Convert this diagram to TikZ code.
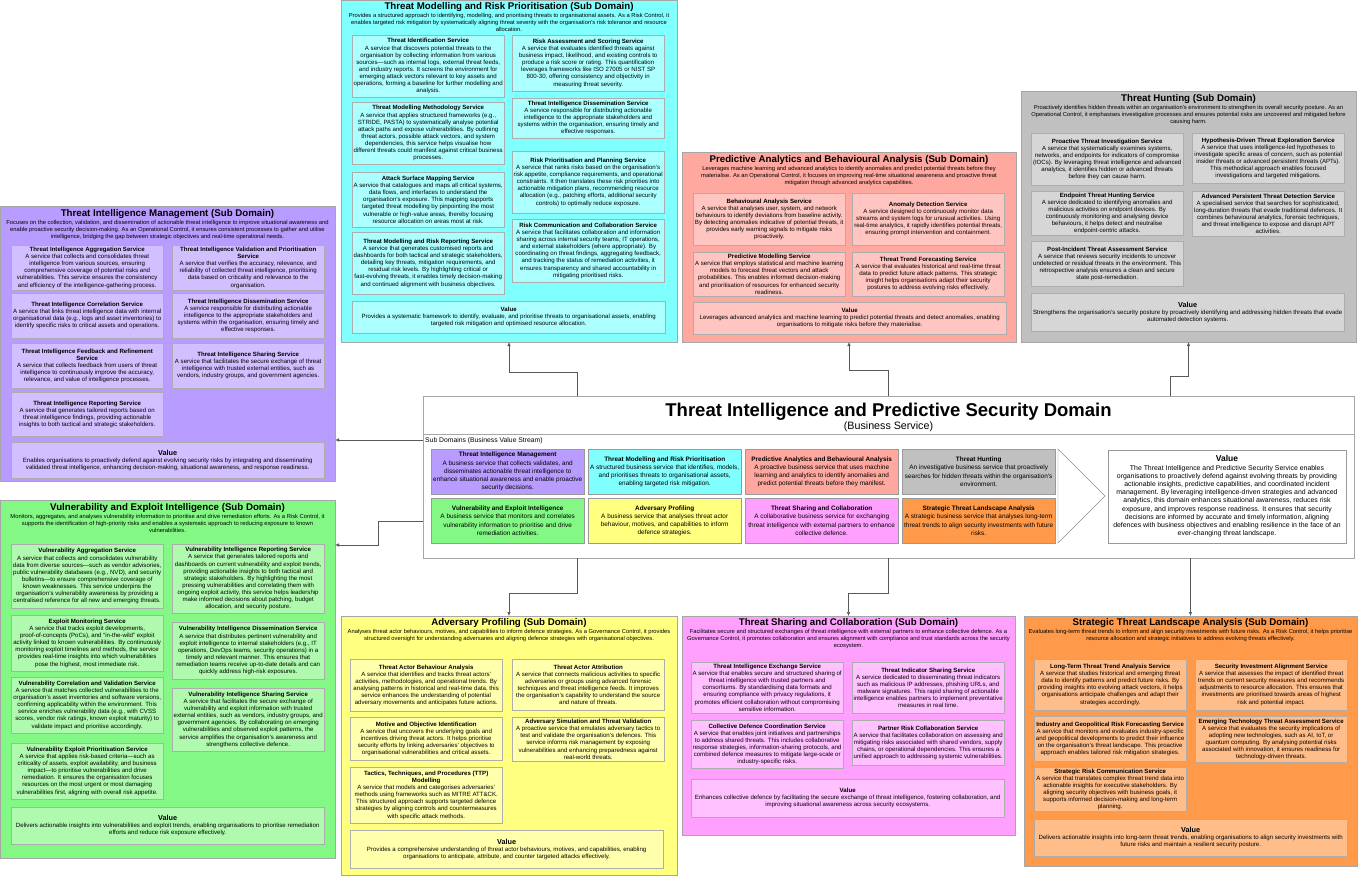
\documentclass[tikz,border=0pt]{standalone}
\usepackage{fontspec}
\setmainfont{Liberation Sans}
\usepackage{tikz}
\usetikzlibrary{arrows.meta,positioning}
\definecolor{timbg}{HTML}{B89CFF}
\definecolor{tmrbg}{HTML}{80FFFF}
\definecolor{pabbg}{HTML}{FFA8A0}
\definecolor{thbg}{HTML}{C0C0C0}
\definecolor{veibg}{HTML}{84F884}
\definecolor{apbg}{HTML}{FFFF80}
\definecolor{tscbg}{HTML}{FFA0FF}
\definecolor{stlbg}{HTML}{FF9A4A}
\newcommand{\fsz}[2]{\fontsize{#1}{#2}\selectfont}
\newcommand{\bigval}{\textbf{\fsz{7.3}{8.5}Value}}
\hyphenpenalty=10000
\exhyphenpenalty=10000
\tikzset{
  dom/.style  = {draw=black!35, anchor=north west, inner sep=0pt, outer sep=0pt},
  hd/.style   = {font=\fsz{9.7}{11}\bfseries, inner sep=1pt},
  desc/.style = {font=\fsz{5.8}{7}, align=flush center, text width=324pt, inner sep=1pt},
  svc/.style  = {draw=black!32, fill=#1!65!white, anchor=north west, align=flush center,
                 text width=149pt, inner sep=1.5pt, font=\fsz{6.1}{7.1}},
  val/.style  = {svc=#1, text width=310pt},
  sum/.style  = {draw=black!40, fill=#1, anchor=north west, align=flush center, text width=149pt,
                 inner sep=2pt, minimum height=45pt, font=\fsz{6.4}{8.2}},
  frame/.style = {draw=black!35, fill=white, anchor=north west, inner sep=0pt, outer sep=0pt},
  ar/.style   = {-{Latex[length=4pt,width=3.5pt]}, draw=black!65, line width=0.6pt},
}
\begin{document}
\begin{tikzpicture}[x=1pt, y=-1pt]
  \path[use as bounding box, fill=white] (0,0) rectangle (1358,876);

  % Threat Modelling and Risk Prioritisation
  \node[dom, fill=tmrbg, minimum width=336, minimum height=342] (tmrp) at (341,0) {};
  \node[hd, below=1pt of tmrp.north] (tmrpH) {Threat Modelling and Risk Prioritisation (Sub Domain)};
  \node[desc, text width=328pt, below=0pt of tmrpH] (tmrpD) {Provides a structured approach to identifying, modelling, and prioritising threats to organisational assets. As a Risk Control, it enables targeted risk mitigation by systematically aligning threat severity with the organisation's risk tolerance and resource allocation.};
  \node[svc=tmrbg, minimum height=62] (tmrp1) at (352,35) {\textbf{Threat Identification Service}\\A service that discovers potential threats to the organisation by collecting information from various sources—such as internal logs, external threat feeds, and industry reports. It screens the environment for emerging attack vectors relevant to key assets and operations, forming a baseline for further modelling and analysis.};
  \node[svc=tmrbg, minimum height=62] (tmrp2) at (352,102) {\textbf{Threat Modelling Methodology Service}\\A service that applies structured frameworks (e.g., STRIDE, PASTA) to systematically analyse potential attack paths and expose vulnerabilities. By outlining threat actors, possible attack vectors, and system dependencies, this service helps visualise how different threats could manifest against critical business processes.};
  \node[svc=tmrbg, minimum height=55] (tmrp3) at (352,172) {\textbf{Attack Surface Mapping Service}\\A service that catalogues and maps all critical systems, data flows, and interfaces to understand the organisation's exposure. This mapping supports targeted threat modelling by pinpointing the most vulnerable or high-value areas, thereby focusing resource allocation on areas most at risk.};
  \node[svc=tmrbg, minimum height=62] (tmrp4) at (352,232) {\textbf{Threat Modelling and Risk Reporting Service}\\A service that generates customised reports and dashboards for both tactical and strategic stakeholders, detailing key threats, mitigation requirements, and residual risk levels. By highlighting critical or fast-evolving threats, it enables timely decision-making and continued alignment with business objectives.};
  \node[svc=tmrbg, minimum height=56] (tmrp5) at (512,35) {\textbf{Risk Assessment and Scoring Service}\\A service that evaluates identified threats against business impact, likelihood, and existing controls to produce a risk score or rating. This quantification leverages frameworks like ISO 27005 or NIST SP 800-30, offering consistency and objectivity in measuring threat severity.};
  \node[svc=tmrbg, minimum height=40] (tmrp6) at (512,98) {\textbf{Threat Intelligence Dissemination Service}\\A service responsible for distributing actionable intelligence to the appropriate stakeholders and systems within the organisation, ensuring timely and effective responses.};
  \node[svc=tmrbg, minimum height=62] (tmrp7) at (512,151) {\textbf{Risk Prioritisation and Planning Service}\\A service that ranks risks based on the organisation's risk appetite, compliance requirements, and operational constraints. It then translates these risk priorities into actionable mitigation plans, recommending resource allocation (e.g., patching efforts, additional security controls) to optimally reduce exposure.};
  \node[svc=tmrbg, minimum height=63] (tmrp8) at (512,219) {\textbf{Risk Communication and Collaboration Service}\\A service that facilitates collaboration and information sharing across internal security teams, IT operations, and external stakeholders (where appropriate). By coordinating on threat findings, aggregating feedback, and tracking the status of remediation activities, it ensures transparency and shared accountability in mitigating prioritised risks.};
  \node[val=tmrbg, minimum height=32] (tmrpV) at (352,301) {\textbf{Value}\\Provides a systematic framework to identify, evaluate, and prioritise threats to organisational assets, enabling targeted risk mitigation and optimised resource allocation.};

  % Predictive Analytics and Behavioural Analysis
  \node[dom, fill=pabbg, minimum width=334, minimum height=190] (pab) at (682,152) {};
  \node[hd, below=2pt of pab.north] (pabH) {Predictive Analytics and Behavioural Analysis (Sub Domain)};
  \node[desc, text width=318pt, below=0pt of pabH] (pabD) {Leverages machine learning and advanced analytics to identify anomalies and predict potential threats before they materialise. As an Operational Control, it focuses on improving real-time situational awareness and proactive threat mitigation through advanced analytics capabilities.};
  \node[svc=pabbg, minimum height=52] (pab1) at (693,193) {\textbf{Behavioural Analysis Service}\\A service that analyses user, system, and network behaviours to identify deviations from baseline activity. By detecting anomalies indicative of potential threats, it provides early warning signals to mitigate risks proactively.};
  \node[svc=pabbg, minimum height=52] (pab2) at (852,193) {\textbf{Anomaly Detection Service}\\A service designed to continuously monitor data streams and system logs for unusual activities. Using real-time analytics, it rapidly identifies potential threats, ensuring prompt intervention and containment.};
  \node[svc=pabbg, minimum height=44] (pab3) at (693,252) {\textbf{Predictive Modelling Service}\\A service that employs statistical and machine learning models to forecast threat vectors and attack probabilities. This enables informed decision-making and prioritisation of resources for enhanced security readiness.};
  \node[svc=pabbg, minimum height=44] (pab4) at (852,252) {\textbf{Threat Trend Forecasting Service}\\A service that evaluates historical and real-time threat data to predict future attack patterns. This strategic insight helps organisations adapt their security postures to address evolving risks effectively.};
  \node[val=pabbg, minimum height=32] (pabV) at (693,302) {\textbf{Value}\\Leverages advanced analytics and machine learning to predict potential threats and detect anomalies, enabling organisations to mitigate risks before they materialise.};

  % Threat Hunting
  \node[dom, fill=thbg, minimum width=335, minimum height=251] (th) at (1021,91) {};
  \node[hd, below=2pt of th.north] (thH) {Threat Hunting (Sub Domain)};
  \node[desc, below=0pt of thH] (thD) {Proactively identifies hidden threats within an organisation's environment to strengthen its overall security posture. As an Operational Control, it emphasises investigative processes and ensures potential risks are uncovered and mitigated before causing harm.};
  \node[svc=thbg, minimum height=52] (th1) at (1031,133) {\textbf{Proactive Threat Investigation Service}\\A service that systematically examines systems, networks, and endpoints for indicators of compromise (IOCs). By leveraging threat intelligence and advanced analytics, it identifies hidden or advanced threats before they can cause harm.};
  \node[svc=thbg, minimum height=50] (th2) at (1192,133) {\textbf{Hypothesis-Driven Threat Exploration Service}\\A service that uses intelligence-led hypotheses to investigate specific areas of concern, such as potential insider threats or advanced persistent threats (APTs). This methodical approach enables focused investigations and targeted mitigations.};
  \node[svc=thbg, minimum height=44] (th3) at (1031,191) {\textbf{Endpoint Threat Hunting Service}\\A service dedicated to identifying anomalies and malicious activities on endpoint devices. By continuously monitoring and analysing device behaviours, it helps detect and neutralise endpoint-centric attacks.};
  \node[svc=thbg, minimum height=45] (th4) at (1192,191) {\textbf{Advanced Persistent Threat Detection Service}\\A specialised service that searches for sophisticated, long-duration threats that evade traditional defences. It combines behavioural analytics, forensic techniques, and threat intelligence to expose and disrupt APT activities.};
  \node[svc=thbg, minimum height=45] (th5) at (1031,241) {\textbf{Post-Incident Threat Assessment Service}\\A service that reviews security incidents to uncover undetected or residual threats in the environment. This retrospective analysis ensures a clean and secure state post-remediation.};
  \node[val=thbg, minimum height=38] (thV) at (1031,293) {\bigval\\Strengthens the organisation's security posture by proactively identifying and addressing hidden threats that evade automated detection systems.};

  % Threat Intelligence Management
  \node[dom, fill=timbg, minimum width=335, minimum height=275] (tim) at (0,206) {};
  \node[hd, below=2pt of tim.north] (timH) {Threat Intelligence Management (Sub Domain)};
  \node[desc, text width=328pt, below=0pt of timH] (timD) {Focuses on the collection, validation, and dissemination of actionable threat intelligence to improve situational awareness and enable proactive security decision-making. As an Operational Control, it ensures consistent processes to gather and utilise intelligence, bridging the gap between strategic objectives and real-time operational needs.};
  \node[svc=timbg, minimum height=45] (tim1) at (11,245) {\textbf{Threat Intelligence Aggregation Service}\\A service that collects and consolidates threat intelligence from various sources, ensuring comprehensive coverage of potential risks and vulnerabilities. This service ensures the consistency and efficiency of the intelligence-gathering process.};
  \node[svc=timbg, minimum height=45] (tim2) at (172,245) {\textbf{Threat Intelligence Validation and Prioritisation Service}\\A service that verifies the accuracy, relevance, and reliability of collected threat intelligence, prioritising data based on criticality and relevance to the organisation.};
  \node[svc=timbg, minimum height=45] (tim3) at (11,293) {\textbf{Threat Intelligence Correlation Service}\\A service that links threat intelligence data with internal organisational data (e.g., logs and asset inventories) to identify specific risks to critical assets and operations.};
  \node[svc=timbg, minimum height=45] (tim4) at (172,293) {\textbf{Threat Intelligence Dissemination Service}\\A service responsible for distributing actionable intelligence to the appropriate stakeholders and systems within the organisation, ensuring timely and effective responses.};
  \node[svc=timbg, minimum height=45] (tim5) at (11,343) {\textbf{Threat Intelligence Feedback and Refinement Service}\\A service that collects feedback from users of threat intelligence to continuously improve the accuracy, relevance, and value of intelligence processes.};
  \node[svc=timbg, minimum height=45] (tim6) at (172,343) {\textbf{Threat Intelligence Sharing Service}\\A service that facilitates the secure exchange of threat intelligence with trusted external entities, such as vendors, industry groups, and government agencies.};
  \node[svc=timbg, minimum height=44] (tim7) at (11,392) {\textbf{Threat Intelligence Reporting Service}\\A service that generates tailored reports based on threat intelligence findings, providing actionable insights to both tactical and strategic stakeholders.};
  \node[val=timbg, minimum height=36] (timV) at (11,442) {\bigval\\Enables organisations to proactively defend against evolving security risks by integrating and disseminating validated threat intelligence, enhancing decision-making, situational awareness, and response readiness.};

  % Vulnerability and Exploit Intelligence
  \node[dom, fill=veibg, minimum width=335, minimum height=358] (vei) at (0,500) {};
  \node[hd, below=2pt of vei.north] (veiH) {Vulnerability and Exploit Intelligence (Sub Domain)};
  \node[desc, below=0pt of veiH] (veiD) {Monitors, aggregates, and analyses vulnerability information to prioritise and drive remediation efforts. As a Risk Control, it supports the identification of high-priority risks and enables a systematic approach to reducing exposure to known vulnerabilities.};
  \node[svc=veibg, minimum height=64] (vei1) at (11,544) {\textbf{Vulnerability Aggregation Service}\\A service that collects and consolidates vulnerability data from diverse sources—such as vendor advisories, public vulnerability databases (e.g., NVD), and security bulletins—to ensure comprehensive coverage of known weaknesses. This service underpins the organisation's vulnerability awareness by providing a centralised reference for all new and emerging threats.};
  \node[svc=veibg, minimum height=56] (vei2) at (11,615) {\textbf{Exploit Monitoring Service}\\A service that tracks exploit developments, proof-of-concepts (PoCs), and “in-the-wild” exploit activity linked to known vulnerabilities. By continuously monitoring exploit timelines and methods, the service provides real-time insights into which vulnerabilities pose the highest, most immediate risk.};
  \node[svc=veibg, minimum height=56] (vei3) at (11,677) {\textbf{Vulnerability Correlation and Validation Service}\\A service that matches collected vulnerabilities to the organisation's asset inventories and software versions, confirming applicability within the environment. This service enriches vulnerability data (e.g., with CVSS scores, vendor risk ratings, known exploit maturity) to validate impact and prioritise accordingly.};
  \node[svc=veibg, minimum height=56] (vei4) at (11,743) {\textbf{Vulnerability Exploit Prioritisation Service}\\A service that applies risk-based criteria—such as criticality of assets, exploit availability, and business impact—to prioritise vulnerabilities and drive remediation. It ensures the organisation focuses resources on the most urgent or most damaging vulnerabilities first, aligning with overall risk appetite.};
  \node[svc=veibg, minimum height=69] (vei5) at (172,544) {\textbf{Vulnerability Intelligence Reporting Service}\\A service that generates tailored reports and dashboards on current vulnerability and exploit trends, providing actionable insights to both tactical and strategic stakeholders. By highlighting the most pressing vulnerabilities and correlating them with ongoing exploit activity, this service helps leadership make informed decisions about patching, budget allocation, and security posture.};
  \node[svc=veibg, minimum height=57] (vei6) at (172,622) {\textbf{Vulnerability Intelligence Dissemination Service}\\A service that distributes pertinent vulnerability and exploit intelligence to internal stakeholders (e.g., IT operations, DevOps teams, security operations) in a timely and relevant manner. This ensures that remediation teams receive up-to-date details and can quickly address high-risk exposures.};
  \node[svc=veibg, minimum height=63] (vei7) at (172,688) {\textbf{Vulnerability Intelligence Sharing Service}\\A service that facilitates the secure exchange of vulnerability and exploit information with trusted external entities, such as vendors, industry groups, and government agencies. By collaborating on emerging vulnerabilities and observed exploit patterns, the service amplifies the organisation's awareness and strengthens collective defence.};
  \node[val=veibg, minimum height=37] (veiV) at (11,807) {\bigval\\Delivers actionable insights into vulnerabilities and exploit trends, enabling organisations to prioritise remediation efforts and reduce risk exposure effectively.};

  % Adversary Profiling
  \node[dom, fill=apbg, minimum width=336, minimum height=259] (ap) at (341,616) {};
  \node[hd, below=1pt of ap.north] (apH) {Adversary Profiling (Sub Domain)};
  \node[desc, text width=330pt, below=0pt of apH] (apD) {Analyses threat actor behaviours, motives, and capabilities to inform defence strategies. As a Governance Control, it provides structured oversight for understanding adversaries and aligning defence strategies with organisational objectives.};
  \node[svc=apbg, minimum height=52] (ap1) at (350,659) {\textbf{Threat Actor Behaviour Analysis}\\A service that identifies and tracks threat actors' activities, methodologies, and operational trends. By analysing patterns in historical and real-time data, this service enhances the understanding of potential adversary movements and anticipates future actions.};
  \node[svc=apbg, minimum height=51] (ap2) at (512,659) {\textbf{Threat Actor Attribution}\\A service that connects malicious activities to specific adversaries or groups using advanced forensic techniques and threat intelligence feeds. It improves the organisation's capability to understand the source and nature of threats.};
  \node[svc=apbg, minimum height=43] (ap3) at (350,717) {\textbf{Motive and Objective Identification}\\A service that uncovers the underlying goals and incentives driving threat actors. It helps prioritise security efforts by linking adversaries' objectives to organisational vulnerabilities and critical assets.};
  \node[svc=apbg, minimum height=44] (ap4) at (512,717) {\textbf{Adversary Simulation and Threat Validation}\\A proactive service that emulates adversary tactics to test and validate the organisation's defences. This service informs risk management by exposing vulnerabilities and enhancing preparedness against real-world threats.};
  \node[svc=apbg, minimum height=56] (ap5) at (350,767) {\textbf{Tactics, Techniques, and Procedures (TTP) Modelling}\\A service that models and categorises adversaries' methods using frameworks such as MITRE ATT\&CK. This structured approach supports targeted defence strategies by aligning controls and countermeasures with specific attack methods.};
  \node[val=apbg, minimum height=38] (apV) at (350,830) {\bigval\\Provides a comprehensive understanding of threat actor behaviours, motives, and capabilities, enabling organisations to anticipate, attribute, and counter targeted attacks effectively.};

  % Threat Sharing and Collaboration
  \node[dom, fill=tscbg, minimum width=333, minimum height=219] (tsc) at (682,616) {};
  \node[hd, below=1pt of tsc.north] (tscH) {Threat Sharing and Collaboration (Sub Domain)};
  \node[desc, below=0pt of tscH] (tscD) {Facilitates secure and structured exchanges of threat intelligence with external partners to enhance collective defence. As a Governance Control, it promotes collaboration and ensures alignment with compliance and trust standards across the security ecosystem.};
  \node[svc=tscbg, minimum height=51] (tsc1) at (691,662) {\textbf{Threat Intelligence Exchange Service}\\A service that enables secure and structured sharing of threat intelligence with trusted partners and consortiums. By standardising data formats and ensuring compliance with privacy regulations, it promotes efficient collaboration without compromising sensitive information.};
  \node[svc=tscbg, minimum height=51] (tsc2) at (852,662) {\textbf{Threat Indicator Sharing Service}\\A service dedicated to disseminating threat indicators such as malicious IP addresses, phishing URLs, and malware signatures. This rapid sharing of actionable intelligence enables partners to implement preventative measures in real time.};
  \node[svc=tscbg, minimum height=48] (tsc3) at (691,720) {\textbf{Collective Defence Coordination Service}\\A service that enables joint initiatives and partnerships to address shared threats. This includes collaborative response strategies, information-sharing protocols, and combined defence measures to mitigate large-scale or industry-specific risks.};
  \node[svc=tscbg, minimum height=45] (tsc4) at (852,720) {\textbf{Partner Risk Collaboration Service}\\A service that facilitates collaboration on assessing and mitigating risks associated with shared vendors, supply chains, or operational dependencies. This ensures a unified approach to addressing systemic vulnerabilities.};
  \node[val=tscbg, minimum height=38] (tscV) at (691,779) {\textbf{Value}\\Enhances collective defence by facilitating the secure exchange of threat intelligence, fostering collaboration, and improving situational awareness across security ecosystems.};

  % Strategic Threat Landscape Analysis
  \node[dom, fill=stlbg, minimum width=333, minimum height=250] (stl) at (1024,616) {};
  \node[hd, below=1pt of stl.north] (stlH) {Strategic Threat Landscape Analysis (Sub Domain)};
  \node[desc, below=0pt of stlH] (stlD) {Evaluates long-term threat trends to inform and align security investments with future risks. As a Risk Control, it helps prioritise resource allocation and strategic initiatives to address evolving threats effectively.};
  \node[svc=stlbg, minimum height=51] (stl1) at (1034,659) {\textbf{Long-Term Threat Trend Analysis Service}\\A service that studies historical and emerging threat data to identify patterns and predict future risks. By providing insights into evolving attack vectors, it helps organisations anticipate challenges and adapt their strategies accordingly.};
  \node[svc=stlbg, minimum height=51] (stl2) at (1195,659) {\textbf{Security Investment Alignment Service}\\A service that assesses the impact of identified threat trends on current security measures and recommends adjustments to resource allocation. This ensures that investments are prioritised towards areas of highest risk and potential impact.};
  \node[svc=stlbg, minimum height=45] (stl3) at (1034,716) {\textbf{Industry and Geopolitical Risk Forecasting Service}\\A service that monitors and evaluates industry-specific and geopolitical developments to predict their influence on the organisation's threat landscape. This proactive approach enables tailored risk mitigation strategies.};
  \node[svc=stlbg, minimum height=46] (stl4) at (1195,716) {\textbf{Emerging Technology Threat Assessment Service}\\A service that evaluates the security implications of adopting new technologies, such as AI, IoT, or quantum computing. By analysing potential risks associated with innovation, it ensures readiness for technology-driven threats.};
  \node[svc=stlbg, minimum height=44] (stl5) at (1034,767) {\textbf{Strategic Risk Communication Service}\\A service that translates complex threat trend data into actionable insights for executive stakeholders. By aligning security objectives with business goals, it supports informed decision-making and long-term planning.};
  \node[val=stlbg, minimum height=37] (stlV) at (1034,819) {\bigval\\Delivers actionable insights into long-term threat trends, enabling organisations to align security investments with future risks and maintain a resilient security posture.};

  % central domain box
  \node[frame, minimum width=931, minimum height=38] (hdr) at (423,396) {};
  \node[frame, minimum width=931, minimum height=124] (ctr) at (423,434) {};
  \node[font=\fsz{18.5}{21}\bfseries, inner sep=1pt, below=6pt of hdr.north] (ttl) {Threat Intelligence and Predictive Security Domain};
  \node[font=\fsz{10.7}{12}, inner sep=1pt, below=-1pt of ttl] (ttlS) {(Business Service)};
  \node[font=\fsz{6.8}{8}, inner sep=1pt, below right=2pt and 1pt of ctr.north west] (sdl) {Sub Domains (Business Value Stream)};
  \node[sum=timbg] (s1) at (431,449) {\textbf{Threat Intelligence Management}\\A business service that collects validates, and disseminates actionable threat intelligence to enhance situational awareness and enable proactive security decisions.};
  \node[sum=tmrbg] (s2) at (588,449) {\textbf{Threat Modelling and Risk Prioritisation}\\A structured business service that identifies, models, and prioritises threats to organisational assets, enabling targeted risk mitigation.};
  \node[sum=pabbg] (s3) at (745,449) {\textbf{Predictive Analytics and Behavioural Analysis}\\A proactive business service that uses machine learning and analytics to identify anomalies and predict potential threats before they manifest.};
  \node[sum=thbg] (s4) at (902,449) {\textbf{Threat Hunting}\\An investigative business service that proactively searches for hidden threats within the organisation's environment.};
  \node[sum=veibg] (s5) at (431,498) {\textbf{Vulnerability and Exploit Intelligence}\\A business service that monitors and correlates vulnerability information to prioritise and drive remediation activities.};
  \node[sum=apbg] (s6) at (588,498) {\textbf{Adversary Profiling}\\A business service that analyses threat actor behaviour, motives, and capabilities to inform defence strategies.};
  \node[sum=tscbg] (s7) at (745,498) {\textbf{Threat Sharing and Collaboration}\\A collaborative business service for exchanging threat intelligence with external partners to enhance collective defence.};
  \node[sum=stlbg] (s8) at (902,498) {\textbf{Strategic Threat Landscape Analysis}\\A strategic business service that analyses long-term threat trends to align security investments with future risks.};
  \draw[draw=black!45, fill=white] (1058,449) -- (1105,496) -- (1058,543) -- cycle;
  \node[frame, draw=black!40, align=flush center, text width=232pt, inner sep=3pt, minimum height=93pt,
        font=\fsz{6.9}{8.2}] (cval) at (1108,450) {\textbf{\fsz{8.5}{10}Value}\\The Threat Intelligence and Predictive Security Service enables organisations to proactively defend against evolving threats by providing actionable insights, predictive capabilities, and coordinated incident management. By leveraging intelligence-driven strategies and advanced analytics, this domain enhances situational awareness, reduces risk exposure, and improves response readiness. It ensures that security decisions are informed by accurate and timely information, aligning defences with business objectives and enabling resilience in the face of an ever-changing threat landscape.};

  % connectors
  \coordinate (kA) at (577,372);
  \coordinate (kB) at (888,370);
  \coordinate (kC) at (1170,376);
  \coordinate (kD) at (577,593);
  \coordinate (kE) at (888,593);
  \coordinate (kF) at (380,440);
  \coordinate (kG) at (378,521);
  \coordinate (kH) at (378,545);
  \draw[ar] (hdr.north -| kA) -- (kA) -| (tmrp.south);
  \draw[ar] (hdr.north -| kB) -- (kB) -| (pab.south);
  \draw[ar] (hdr.north -| kC) -- (kC) -| (th.south);
  \draw[ar] (ctr.south -| kD) -- (kD) -| (ap.north);
  \draw[ar] (ctr.south -| kE) -- (kE) -| (tsc.north);
  \draw[ar] (ctr.south -| stl.north) -- (stl.north);
  \draw[ar] (ctr.west |- kF) -- (tim.east |- kF);
  \draw[ar] (ctr.west |- kG) -- (kG) -- (kH) -- (vei.east |- kH);
\end{tikzpicture}
\end{document}
